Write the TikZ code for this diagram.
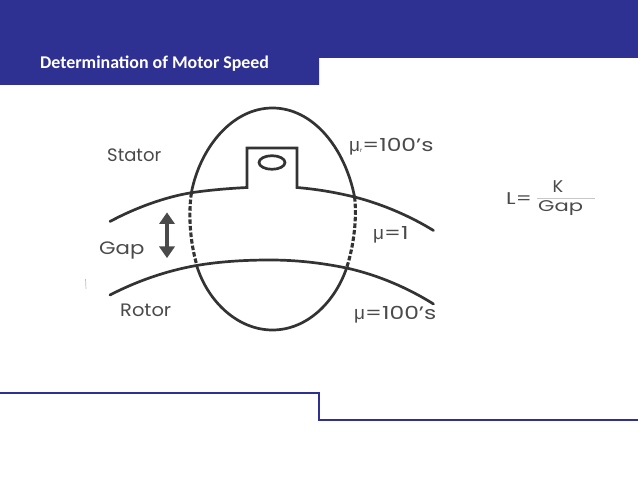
\documentclass[tikz,border=0pt]{standalone}
\usepackage{fontspec}
\usepackage{graphicx}
\setmainfont{Poppins}
\newfontfamily\titlefont{Carlito}
\newfontfamily\greekfont{Liberation Sans}
\definecolor{hdr}{HTML}{2E3192}
\definecolor{ink}{HTML}{333333}
\definecolor{lab}{HTML}{4A4A4A}
\newcommand{\wide}[2]{\scalebox{#1}[1]{#2}}
\newcommand{\mug}{{\greekfont\fontsize{19}{19}\selectfont μ}}
\tikzset{
 curve/.style={draw=ink,line width=2.7pt,line cap=round,line join=miter},
 gapdash/.style={draw=ink,line width=3.1pt,dash pattern=on 4.6pt off 2pt},
 lbl/.style={text=lab,font=\fontsize{18}{18}\selectfont,inner sep=0pt,anchor=base west},
 frm/.style={text=lab,font=\fontsize{17}{17}\selectfont,inner sep=0pt,anchor=base west},
}
\begin{document}
\begin{tikzpicture}[x=1pt,y=-1pt]
\useasboundingbox (0,0) rectangle (638,478);
\fill[white] (0,0) rectangle (638,478);
% header
\fill[hdr] (0,0) -- (638,0) -- (638,58) -- (319,58) -- (319,85) -- (0,85) -- cycle;
\node[anchor=west,text=white,inner sep=0pt,font=\titlefont\bfseries\fontsize{17.9}{18}\selectfont] (title) at (40,64) {Determination of Motor Speed};
% footer rule
\draw[hdr,line width=2.4pt] (0,393) -- (319,393) -- (319,420) -- (638,420);
% pole ellipse
\draw[curve] (191.4,192.6) .. controls (200,148) and (232,108) .. (272.5,108) .. controls (313,108) and (345,148) .. (354.6,197);
\draw[curve] (196.8,266) .. controls (208,302) and (238,330) .. (272.5,330) .. controls (307,330) and (335,302) .. (346.6,268);
\draw[gapdash] (191.4,193) .. controls (188.5,212) and (189.5,240) .. (196.8,265);
\draw[gapdash] (354.6,197) .. controls (357,218) and (354,245) .. (346.6,268);
% stator
\draw[curve] (110,221.5) .. controls (135,208) and (165,197) .. (191.5,192.7) .. controls (210,190) and (228,188.5) .. (247,187.5)
 -- (247,148) -- (297,148) -- (297,187.5) .. controls (320,189.5) and (338,193) .. (354.5,197) .. controls (382,204) and (410,216) .. (433.5,230.5);
\draw[curve] (272,162.5) ellipse[x radius=13,y radius=6.8];
% rotor
\draw[curve] (110,295) .. controls (135,282) and (165,271) .. (196.5,265.5) .. controls (220,261.5) and (245,260) .. (270,260) .. controls (297,260) and (322,263) .. (346.5,268) .. controls (378,275) and (408,288) .. (433.5,304);
% gap arrow
\coordinate (ga) at (167,212.5);
\coordinate (gb) at (167,258);
\draw[draw=lab,line width=4.6pt] (167,220) -- (167,250);
\fill[lab] (ga) -- (175,224) -- (159,224) -- cycle;
\fill[lab] (gb) -- (175,246.5) -- (159,246.5) -- cycle;
% speck
\draw[black!25,line width=.7pt] (85.5,279) -- (86,289);
% labels
\node[lbl] (stator) at (107,162) {Stator};
\node[lbl] (gap) at (99,255) {\wide{1.18}{Gap}};
\node[lbl] (rotor) at (120,317) {\wide{1.08}{Rotor}};
\node[lbl] (m1) at (349,152) {\mug\raisebox{-1pt}{\fontsize{6}{6}\selectfont r}\wide{1.3}{=100's}};
\node[lbl] (m2) at (373,239.5) {\mug\wide{1.3}{=1}};
\node[lbl] (m3) at (354,320) {\mug\wide{1.3}{=100's}};
% formula
\node[frm] (L) at (506,205) {\wide{1.3}{L=}};
\node[frm] (K) at (552.5,193) {\wide{1.05}{K}};
\node[frm,font=\fontsize{15.5}{15.5}\selectfont] (G) at (538,212) {\wide{1.36}{Gap}};
\draw[black!22,line width=.8pt] (537,198) -- (595,198);
\end{tikzpicture}
\end{document}
